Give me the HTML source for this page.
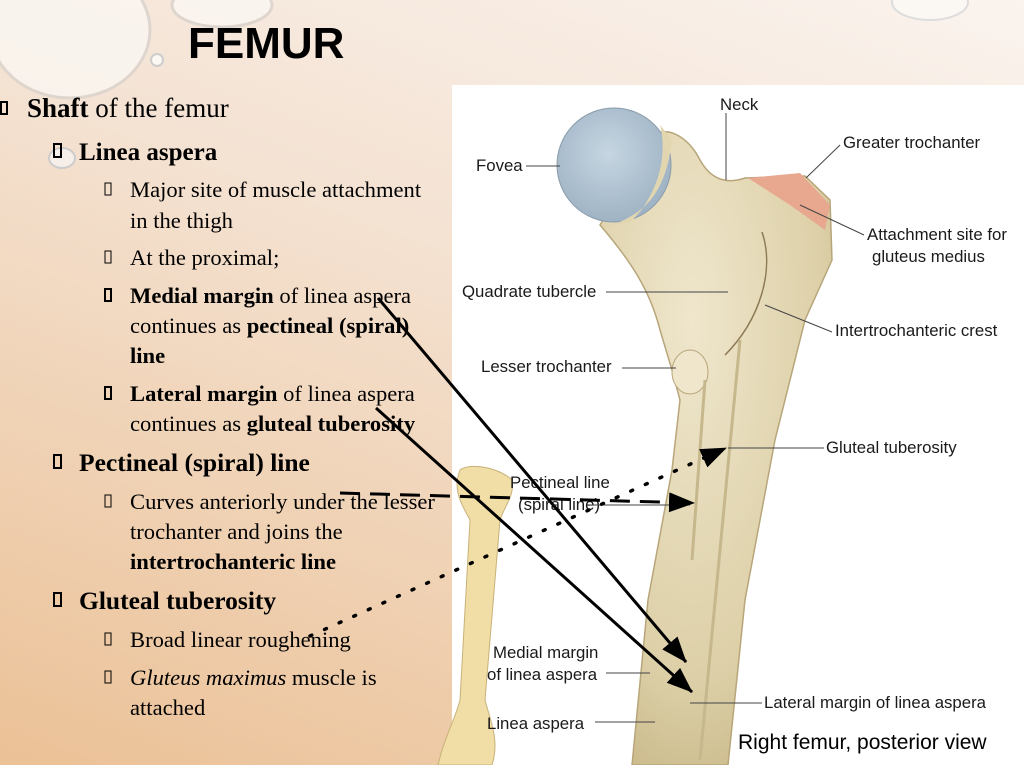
<!DOCTYPE html>
<html><head><meta charset="utf-8"><style>
html,body{margin:0;padding:0;}
body{width:1024px;height:765px;overflow:hidden;background:linear-gradient(200deg,#faf3ee 0%,#f4e2d2 40%,#ebc196 100%);}
svg{display:block}
.s{font-family:"Liberation Serif",serif;fill:#000}
.a{font-family:"Liberation Sans",sans-serif;fill:#1a1a1a;font-size:16.8px}
</style></head><body>
<svg width="1024" height="765" viewBox="0 0 1024 765" xmlns="http://www.w3.org/2000/svg">
<defs>
<radialGradient id="bone" cx="0.4" cy="0.3" r="0.8"><stop offset="0" stop-color="#efe6cc"/><stop offset="0.7" stop-color="#ddd0a8"/><stop offset="1" stop-color="#c6b585"/></radialGradient>
<radialGradient id="head" cx="0.45" cy="0.4" r="0.6"><stop offset="0" stop-color="#c6d6e2"/><stop offset="1" stop-color="#9fb3c4"/></radialGradient>
<marker id="ab" markerWidth="26" markerHeight="20" refX="25" refY="10" orient="auto" markerUnits="userSpaceOnUse"><path d="M0,0 L26,10 L0,20 z" fill="#000"/></marker>
</defs>
<ellipse cx="70" cy="30" rx="80" ry="68" fill="#fbf7f3" stroke="#d9d2cc" stroke-width="3" opacity="0.8"/>
<ellipse cx="222" cy="5" rx="50" ry="22" fill="#fbf7f3" stroke="#d9d2cc" stroke-width="3" opacity="0.8"/>
<circle cx="157" cy="60" r="6" fill="#fbf7f3" stroke="#ccc" stroke-width="2"/>
<ellipse cx="62" cy="158" rx="13" ry="10" fill="#f6eee8" stroke="#ccc" stroke-width="2"/>
<ellipse cx="930" cy="2" rx="38" ry="18" fill="#fbf7f3" stroke="#ddd" stroke-width="2"/>
<text x="188" y="58" font-family="Liberation Sans,sans-serif" font-weight="bold" font-size="44">FEMUR</text>
<rect x="452" y="85" width="572" height="680" fill="#fff"/>
<path d="M600,225 L655,135 C670,125 690,140 700,160 C710,178 725,185 745,178 L805,176 L830,200 L832,260 L805,320 L775,440 L745,600 L728,765 L632,765 L648,600 L672,470 L680,400 L672,370 L660,330 C650,290 630,260 600,225 Z" fill="url(#bone)" stroke="#b8a67a" stroke-width="1.5"/>
<path d="M748,178 L800,173 L830,205 L825,230 L790,205 Z" fill="#e8a890"/>
<ellipse cx="690" cy="372" rx="18" ry="22" fill="#efe6cc" stroke="#b8a67a"/>
<path d="M762,232 C775,270 760,320 725,355" fill="none" stroke="#8c7a55" stroke-width="1.5"/>
<path d="M705,380 L692,560 M740,340 L700,760" stroke="#c6b78c" stroke-width="3" fill="none"/>
<circle cx="614" cy="165" r="57" fill="url(#head)" stroke="#8a9cab"/>
<path d="M660,125 C670,165 650,205 630,222 L605,228 C640,215 665,200 672,140 Z" fill="#e2d6b0"/>
<path d="M460,470 C470,462 500,468 512,480 C515,495 505,505 500,520 L485,700 C490,720 500,740 492,765 L438,765 C445,735 455,720 460,700 L470,520 C462,505 452,490 460,470 Z" fill="#f1dea6" stroke="#c8b27a"/>
<g class="a">
<text x="720" y="110">Neck</text>
<text x="476" y="171">Fovea</text>
<text x="843" y="148">Greater trochanter</text>
<text x="867" y="240">Attachment site for</text>
<text x="872" y="262">gluteus medius</text>
<text x="462" y="297">Quadrate tubercle</text>
<text x="835" y="336">Intertrochanteric crest</text>
<text x="481" y="372">Lesser trochanter</text>
<text x="826" y="453">Gluteal tuberosity</text>
<text x="510" y="488">Pectineal line</text>
<text x="518" y="510">(spiral line)</text>
<text x="493" y="658">Medial margin</text>
<text x="487" y="680">of linea aspera</text>
<text x="764" y="708">Lateral margin of linea aspera</text>
<text x="487" y="729">Linea aspera</text>
</g>
<g stroke="#444" stroke-width="1" fill="none">
<line x1="526" y1="166" x2="560" y2="166"/><line x1="726" y1="113" x2="726" y2="180"/>
<line x1="840" y1="145" x2="806" y2="178"/><line x1="864" y1="235" x2="800" y2="205"/>
<line x1="606" y1="292" x2="728" y2="292"/><line x1="832" y1="332" x2="765" y2="305"/>
<line x1="622" y1="368" x2="676" y2="368"/><line x1="824" y1="448" x2="728" y2="448"/>
<line x1="590" y1="505" x2="690" y2="505"/><line x1="606" y1="673" x2="650" y2="673"/>
<line x1="762" y1="703" x2="690" y2="703"/><line x1="595" y1="722" x2="655" y2="722"/>
</g>
<text x="738" y="749" font-family="Liberation Sans,sans-serif" font-size="21" fill="#000">Right femur, posterior view</text>
<g class="s">
<rect x="1" y="102" width="6" height="12" fill="none" stroke="#000" stroke-width="2"/>
<text x="27" y="117" font-size="27"><tspan font-weight="bold">Shaft</tspan> of the femur</text>
<rect x="54" y="144" width="7" height="13" fill="none" stroke="#000" stroke-width="2"/>
<text x="79" y="160" font-size="25" font-weight="bold">Linea aspera</text>
<g font-size="22.6">
<text x="130" y="197">Major site of muscle attachment</text>
<text x="130" y="228">in the thigh</text>
<text x="130" y="265">At the proximal;</text>
<text x="130" y="303"><tspan font-weight="bold">Medial margin</tspan> of linea aspera</text>
<text x="130" y="333">continues as <tspan font-weight="bold">pectineal (spiral)</tspan></text>
<text x="130" y="363" font-weight="bold">line</text>
<text x="130" y="401"><tspan font-weight="bold">Lateral margin</tspan> of linea aspera</text>
<text x="130" y="431">continues as <tspan font-weight="bold">gluteal tuberosity</tspan></text>
<text x="130" y="509">Curves anteriorly under the lesser</text>
<text x="130" y="539">trochanter and joins the</text>
<text x="130" y="569" font-weight="bold">intertrochanteric line</text>
<text x="130" y="647">Broad linear roughening</text>
<text x="130" y="685"><tspan font-style="italic">Gluteus maximus</tspan> muscle is</text>
<text x="130" y="715">attached</text>
</g>
<g fill="none" stroke="#000" stroke-width="1">
<rect x="105" y="183" width="6" height="12"/><rect x="105" y="251" width="6" height="12"/>
<rect x="105" y="495" width="6" height="12"/><rect x="105" y="633" width="6" height="12"/>
<rect x="105" y="671" width="6" height="12"/>
</g>
<g fill="none" stroke="#000" stroke-width="2">
<rect x="105" y="289" width="6" height="12"/><rect x="105" y="387" width="6" height="12"/>
<rect x="54" y="455" width="7" height="13"/><rect x="54" y="593" width="7" height="13"/>
</g>
<text x="79" y="471" font-size="25.5" font-weight="bold">Pectineal (spiral) line</text>
<text x="79" y="609" font-size="25.5" font-weight="bold">Gluteal tuberosity</text>
</g>
<line x1="378" y1="298" x2="686" y2="662" stroke="#000" stroke-width="3" marker-end="url(#ab)"/>
<line x1="376" y1="408" x2="692" y2="692" stroke="#000" stroke-width="3" marker-end="url(#ab)"/>
<line x1="340" y1="493" x2="694" y2="503" stroke="#000" stroke-width="3" stroke-dasharray="20,10" marker-end="url(#ab)"/>
<line x1="310" y1="636" x2="726" y2="448" stroke="#000" stroke-width="3.5" stroke-dasharray="2,14" stroke-linecap="round" marker-end="url(#ab)"/>
</svg>
</body></html>
